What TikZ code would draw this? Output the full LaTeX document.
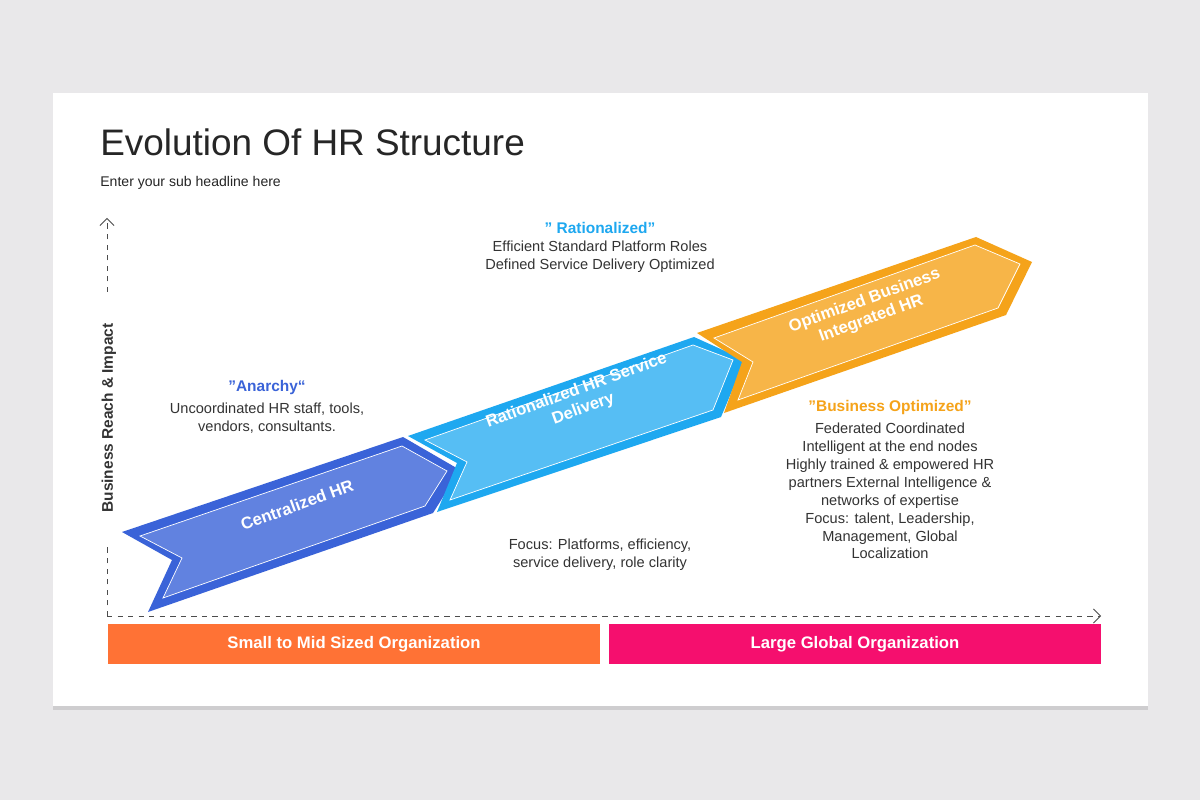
\documentclass[tikz,border=0pt]{standalone}
\usepackage{fontspec}
\setmainfont{Liberation Sans}
\usepackage{tikz}
\usetikzlibrary{calc, arrows.meta, positioning, shadows}
\definecolor{bgGray}{HTML}{E9E8EA}
\definecolor{darkBlue}{HTML}{3A63D8}
\definecolor{lightBlue}{HTML}{1EA8F0}
\definecolor{goldOrange}{HTML}{F5A31A}
\definecolor{barOrange}{HTML}{FF7235}
\definecolor{barPink}{HTML}{F50F6E}
\definecolor{txtGray}{HTML}{333333}
\tikzset{
    body/.style = {align=center, text=txtGray, font=\fontsize{8.3}{10.2}\selectfont, inner sep=0pt},% grey body text
    head/.style = {align=center, font=\fontsize{8.8}{10.2}\selectfont\bfseries, inner sep=0pt},
    chev/.style = {white, align=center, font=\fontsize{9.5}{11}\selectfont\bfseries, rotate=20, inner sep=0pt},
    bar/.style = {text=white, font=\fontsize{9.5}{11}\selectfont\bfseries},
    axis/.style = {draw=black!70, dashed, line width=0.5pt, -{Straight Barb[length=4pt]}}
}
\begin{document}
\begin{tikzpicture}[x=0.02cm, y=-0.02cm]
    \fill[bgGray] (0,0) rectangle (1200,800);
    \useasboundingbox (0,0) rectangle (1200,800);
    \fill[white, drop shadow={opacity=0.25, shadow xshift=0pt, shadow yshift=-2pt}] (53,93) rectangle (1148,706);
    % title
    \node[anchor=west, inner sep=0pt, font=\fontsize{21}{24}\selectfont, text=black!85] (title) at (100,142) {Evolution Of HR Structure};
    \node[anchor=west, inner sep=0pt, font=\fontsize{8}{10}\selectfont, text=black!85] (sub) at (100,183) {Enter your sub headline here};
    % centralized HR
    \fill[darkBlue] (122,532) -- (172,560) -- (148,612) -- (433,513) -- (460,470) -- (403,437) -- cycle;
    \filldraw[draw=white, line width=0.4pt, fill=darkBlue!80!white] (140,536) -- (182,558) -- (163,598) -- (425,506) -- (447,471) -- (402,446) -- cycle;
    % rationalized
    \fill[lightBlue] (408,436) -- (457,463) -- (437,512) -- (721,417) -- (745,360) -- (694,337) -- cycle;
    \filldraw[draw=white, line width=0.4pt, fill=lightBlue!75!white] (425,440) -- (467,462) -- (450,500) -- (713,410) -- (733,360) -- (693,345) -- cycle;
    % optimized
    \fill[goldOrange] (697,333) -- (742,362) -- (724,413) -- (1006,315) -- (1032,262) -- (976,237) -- cycle;
    \filldraw[draw=white, line width=0.4pt, fill=goldOrange!80!white] (714,338) -- (753,362) -- (738,400) -- (998,308) -- (1020,264) -- (975,245) -- cycle;
    \node[chev] (cen) at (297,505) {Centralized HR};
    \node[chev] (rat) at (580,400) {Rationalized HR Service\\Delivery};
    \node[chev] (opt) at (868,310) {Optimized Business\\Integrated HR};
    % texts
    \node[head, text=lightBlue] (ratH) at (600,228) {" Rationalized"};
    \node[body, below=4pt of ratH] (ratT) {Efficient Standard Platform Roles\\Defined Service Delivery Optimized};
    \node[head, text=darkBlue] (anaH) at (267,388) {"Anarchy“};
    \node[body, below=4pt of anaH] (anaT) {Uncoordinated HR staff, tools,\\vendors, consultants.};
    \node[head, text=goldOrange] (busH) at (890,408) {"Business Optimized"};
    \node[body, below=4pt of busH] (busT) {Federated Coordinated\\Intelligent at the end nodes\\Highly trained \& empowered HR\\partners External Intelligence \&\\networks of expertise\\Focus: talent, Leadership,\\Management, Global\\Localization};
    \node[body] (foc) at (600,555) {Focus: Platforms, efficiency,\\service delivery, role clarity};
    % axes
    \coordinate (org) at (107,616);
    \coordinate (yend) at (107,218);
    \coordinate (xend) at (1101,616);
    \coordinate (ygap1) at (107,292);
    \coordinate (ygap2) at (107,545);
    \draw[axis] (ygap1) -- (yend);
    \draw[draw=black!70, dashed, line width=0.5pt] (org) -- (ygap2);
    \draw[axis] (org) -- (xend);
    \node[rotate=90, inner sep=0pt, font=\fontsize{8.8}{10}\selectfont\bfseries, text=txtGray] (ylab) at (109,418) {Business Reach \& Impact};
    % bars
    \fill[barOrange] (108,624) rectangle (600,664);
    \fill[barPink] (609,624) rectangle (1101,664);
    \node[bar] (small) at (354,644) {Small to Mid Sized Organization};
    \node[bar] (large) at (855,644) {Large Global Organization};
\end{tikzpicture}
\end{document}
